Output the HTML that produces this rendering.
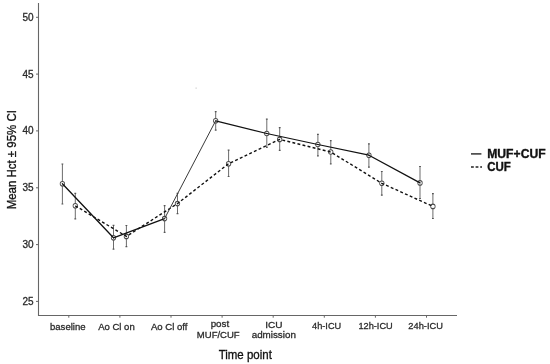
<!DOCTYPE html>
<html><head><meta charset="utf-8"><style>
html,body{margin:0;padding:0;background:#fff;width:550px;height:364px;overflow:hidden}
svg{display:block}
.t{font-family:"Liberation Sans",Arial,sans-serif;font-size:10px;fill:#2b2b2b;stroke:#2b2b2b;stroke-width:0.3px}
.ti{font-family:"Liberation Sans",Arial,sans-serif;font-size:12px;fill:#111;stroke:#111;stroke-width:0.3px}
.lg{font-family:"Liberation Sans",Arial,sans-serif;font-size:12px;font-weight:bold;fill:#111;stroke:#111;stroke-width:0.35px}
</style></head><body>
<svg width="550" height="364" viewBox="0 0 550 364">
<rect width="550" height="364" fill="#fff"/>
<path d="M38.5 3V315.5H457" fill="none" stroke="#666" stroke-width="1.1"/>
<path d="M36.0 17.3H38.5" stroke="#666" stroke-width="1"/>
<text x="33.6" y="20.8" text-anchor="end" class="t">50</text>
<path d="M36.0 74.1H38.5" stroke="#666" stroke-width="1"/>
<text x="33.6" y="77.6" text-anchor="end" class="t">45</text>
<path d="M36.0 130.9H38.5" stroke="#666" stroke-width="1"/>
<text x="33.6" y="134.4" text-anchor="end" class="t">40</text>
<path d="M36.0 187.8H38.5" stroke="#666" stroke-width="1"/>
<text x="33.6" y="191.3" text-anchor="end" class="t">35</text>
<path d="M36.0 244.6H38.5" stroke="#666" stroke-width="1"/>
<text x="33.6" y="248.1" text-anchor="end" class="t">30</text>
<path d="M36.0 301.4H38.5" stroke="#666" stroke-width="1"/>
<text x="33.6" y="304.9" text-anchor="end" class="t">25</text>
<path d="M68.8 315.5V317.7" stroke="#666" stroke-width="1"/>
<path d="M119.9 315.5V317.7" stroke="#666" stroke-width="1"/>
<path d="M171.0 315.5V317.7" stroke="#666" stroke-width="1"/>
<path d="M222.1 315.5V317.7" stroke="#666" stroke-width="1"/>
<path d="M273.2 315.5V317.7" stroke="#666" stroke-width="1"/>
<path d="M324.3 315.5V317.7" stroke="#666" stroke-width="1"/>
<path d="M375.4 315.5V317.7" stroke="#666" stroke-width="1"/>
<path d="M426.5 315.5V317.7" stroke="#666" stroke-width="1"/>
<text transform="translate(49.99 329.6) scale(0.986 1)" class="t" style="font-size:9.7px">baseline</text>
<text transform="translate(98.18 330) scale(0.982 1)" class="t" style="font-size:9.7px">Ao Cl on</text>
<text transform="translate(150.88 330) scale(0.989 1)" class="t" style="font-size:9.7px">Ao Cl off</text>
<text transform="translate(210.67 327.4) scale(1.009 1)" class="t" style="font-size:9.7px">post</text>
<text transform="translate(196.82 338.1) scale(0.982 1)" class="t" style="font-size:9.7px">MUF/CUF</text>
<text transform="translate(265.28 327.5) scale(1.035 1)" class="t" style="font-size:9.7px">ICU</text>
<text transform="translate(251.69 337.8) scale(1.013 1)" class="t" style="font-size:9.7px">admission</text>
<text transform="translate(312.10 328.8) scale(0.947 1)" class="t" style="font-size:9.7px">4h-ICU</text>
<text transform="translate(358.40 328.7) scale(0.950 1)" class="t" style="font-size:9.7px">12h-ICU</text>
<text transform="translate(408.34 328.7) scale(0.957 1)" class="t" style="font-size:9.7px">24h-ICU</text>
<text transform="translate(218.65 358.5) scale(0.958 1)" class="ti" style="font-size:12px">Time point</text>
<text transform="translate(15.9 209.34) rotate(-90) scale(0.956 1)" class="ti">Mean Hct ± 95% CI</text>
<path d="M62.4 164.0V204" stroke="#6c6c6c" stroke-width="1" fill="none"/>
<path d="M61.5 164.0H63.3M61.5 204H63.3" stroke="#555" stroke-width="1.2" fill="none"/>
<path d="M113.5 225.3V249.1" stroke="#6c6c6c" stroke-width="1" fill="none"/>
<path d="M112.6 225.3H114.4M112.6 249.1H114.4" stroke="#555" stroke-width="1.2" fill="none"/>
<path d="M164.6 205.7V232.3" stroke="#6c6c6c" stroke-width="1" fill="none"/>
<path d="M163.7 205.7H165.5M163.7 232.3H165.5" stroke="#555" stroke-width="1.2" fill="none"/>
<path d="M215.7 111.6V130.1" stroke="#6c6c6c" stroke-width="1" fill="none"/>
<path d="M214.8 111.6H216.6M214.8 130.1H216.6" stroke="#555" stroke-width="1.2" fill="none"/>
<path d="M266.8 119.1V147.4" stroke="#6c6c6c" stroke-width="1" fill="none"/>
<path d="M265.9 119.1H267.7M265.9 147.4H267.7" stroke="#555" stroke-width="1.2" fill="none"/>
<path d="M317.9 134.3V155.8" stroke="#6c6c6c" stroke-width="1" fill="none"/>
<path d="M317.0 134.3H318.8M317.0 155.8H318.8" stroke="#555" stroke-width="1.2" fill="none"/>
<path d="M368.9 143.8V167.2" stroke="#6c6c6c" stroke-width="1" fill="none"/>
<path d="M368.0 143.8H369.8M368.0 167.2H369.8" stroke="#555" stroke-width="1.2" fill="none"/>
<path d="M420.0 166.5V198.5" stroke="#6c6c6c" stroke-width="1" fill="none"/>
<path d="M419.1 166.5H420.9M419.1 198.5H420.9" stroke="#555" stroke-width="1.2" fill="none"/>
<path d="M75.3 193.3V218.8" stroke="#6c6c6c" stroke-width="1" fill="none"/>
<path d="M74.4 193.3H76.2M74.4 218.8H76.2" stroke="#555" stroke-width="1.2" fill="none"/>
<path d="M126.4 225.5V246.6" stroke="#6c6c6c" stroke-width="1" fill="none"/>
<path d="M125.5 225.5H127.3M125.5 246.6H127.3" stroke="#555" stroke-width="1.2" fill="none"/>
<path d="M177.5 193.3V213.6" stroke="#6c6c6c" stroke-width="1" fill="none"/>
<path d="M176.6 193.3H178.4M176.6 213.6H178.4" stroke="#555" stroke-width="1.2" fill="none"/>
<path d="M228.6 150.1V176.5" stroke="#6c6c6c" stroke-width="1" fill="none"/>
<path d="M227.7 150.1H229.5M227.7 176.5H229.5" stroke="#555" stroke-width="1.2" fill="none"/>
<path d="M279.7 127.7V150.4" stroke="#6c6c6c" stroke-width="1" fill="none"/>
<path d="M278.8 127.7H280.6M278.8 150.4H280.6" stroke="#555" stroke-width="1.2" fill="none"/>
<path d="M330.8 140.6V163.8" stroke="#6c6c6c" stroke-width="1" fill="none"/>
<path d="M329.9 140.6H331.6M329.9 163.8H331.6" stroke="#555" stroke-width="1.2" fill="none"/>
<path d="M381.8 171.5V195.2" stroke="#6c6c6c" stroke-width="1" fill="none"/>
<path d="M380.9 171.5H382.7M380.9 195.2H382.7" stroke="#555" stroke-width="1.2" fill="none"/>
<path d="M432.9 193.7V218.5" stroke="#6c6c6c" stroke-width="1" fill="none"/>
<path d="M432.0 193.7H433.8M432.0 218.5H433.8" stroke="#555" stroke-width="1.2" fill="none"/>
<g transform="scale(0.7 1)">
<ellipse cx="89.14" cy="183.7" rx="3.21" ry="2.25" fill="#fff" stroke="#4a4a4a" stroke-width="1.1"/>
<ellipse cx="162.13" cy="237.8" rx="3.21" ry="2.25" fill="#fff" stroke="#4a4a4a" stroke-width="1.1"/>
<ellipse cx="235.11" cy="218.6" rx="3.21" ry="2.25" fill="#fff" stroke="#4a4a4a" stroke-width="1.1"/>
<ellipse cx="308.10" cy="120.8" rx="3.21" ry="2.25" fill="#fff" stroke="#4a4a4a" stroke-width="1.1"/>
<ellipse cx="381.09" cy="133.5" rx="3.21" ry="2.25" fill="#fff" stroke="#4a4a4a" stroke-width="1.1"/>
<ellipse cx="454.07" cy="144.5" rx="3.21" ry="2.25" fill="#fff" stroke="#4a4a4a" stroke-width="1.1"/>
<ellipse cx="527.06" cy="155.2" rx="3.21" ry="2.25" fill="#fff" stroke="#4a4a4a" stroke-width="1.1"/>
<ellipse cx="600.04" cy="182.9" rx="3.21" ry="2.25" fill="#fff" stroke="#4a4a4a" stroke-width="1.1"/>
<ellipse cx="107.57" cy="205.8" rx="3.21" ry="2.25" fill="#fff" stroke="#4a4a4a" stroke-width="1.1"/>
<ellipse cx="180.56" cy="236.4" rx="3.21" ry="2.25" fill="#fff" stroke="#4a4a4a" stroke-width="1.1"/>
<ellipse cx="253.54" cy="203.6" rx="3.21" ry="2.25" fill="#fff" stroke="#4a4a4a" stroke-width="1.1"/>
<ellipse cx="326.53" cy="163.7" rx="3.21" ry="2.25" fill="#fff" stroke="#4a4a4a" stroke-width="1.1"/>
<ellipse cx="399.51" cy="139.4" rx="3.21" ry="2.25" fill="#fff" stroke="#4a4a4a" stroke-width="1.1"/>
<ellipse cx="472.50" cy="152.0" rx="3.21" ry="2.25" fill="#fff" stroke="#4a4a4a" stroke-width="1.1"/>
<ellipse cx="545.49" cy="183.3" rx="3.21" ry="2.25" fill="#fff" stroke="#4a4a4a" stroke-width="1.1"/>
<ellipse cx="618.47" cy="206.4" rx="3.21" ry="2.25" fill="#fff" stroke="#4a4a4a" stroke-width="1.1"/>
</g>
<polyline points="75.30,205.8 126.39,236.4 177.48,203.6 228.57,163.7 279.66,139.4 330.75,152.0 381.84,183.3 432.93,206.4" fill="none" stroke="#111" stroke-width="1.4" stroke-dasharray="2.9 2.3"/>
<path d="M62.40 183.7L113.49 237.8" fill="none" stroke="#111" stroke-width="1.3" stroke-linecap="round"/>
<path d="M113.49 237.8L164.58 218.6" fill="none" stroke="#111" stroke-width="1.3" stroke-linecap="round"/>
<path d="M164.58 218.6L215.67 120.8" fill="none" stroke="#3a3a3a" stroke-width="1.0" stroke-linecap="round"/>
<path d="M215.67 120.8L266.76 133.5" fill="none" stroke="#111" stroke-width="1.25" stroke-linecap="round"/>
<path d="M266.76 133.5L317.85 144.5" fill="none" stroke="#111" stroke-width="1.25" stroke-linecap="round"/>
<path d="M317.85 144.5L368.94 155.2" fill="none" stroke="#111" stroke-width="1.25" stroke-linecap="round"/>
<path d="M368.94 155.2L420.03 182.9" fill="none" stroke="#111" stroke-width="1.3" stroke-linecap="round"/>
<rect x="195.6" y="87.6" width="1" height="1" fill="#b4b4b4"/>
<path d="M471 153.9H481.4" stroke="#333" stroke-width="1.5"/>
<path d="M471 166.9H482" stroke="#222" stroke-width="1.5" stroke-dasharray="2.8 1.8"/>
<text transform="translate(487.20 158) scale(1.014 1)" class="lg" style="font-size:12px">MUF+CUF</text>
<text transform="translate(487.23 170.6) scale(0.961 1)" class="lg" style="font-size:12px">CUF</text>
</svg>
</body></html>
